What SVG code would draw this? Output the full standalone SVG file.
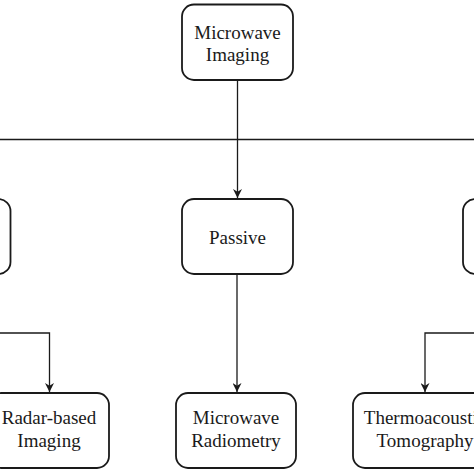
<svg xmlns="http://www.w3.org/2000/svg" width="474" height="474" viewBox="0 0 474 474">
<style>
.box{fill:#fff;stroke:#1a1a1a;stroke-width:1.8}
.t{font-family:"Liberation Serif","Times New Roman",serif;font-size:19px;fill:#1a1a1a;text-anchor:middle}
.c{fill:none;stroke:#1a1a1a;stroke-width:1.3}
</style>
<defs>
<marker id="ah" viewBox="0 0 10 10" refX="10" refY="5" markerWidth="9" markerHeight="9" markerUnits="userSpaceOnUse" orient="auto">
<path d="M0,0 L10,5 L0,10 L3,5 z" fill="#1a1a1a"/>
</marker>
</defs>
<rect width="474" height="474" fill="#fff"/>
<g id="connectors">
<path class="c" d="M237.5,80 V198" marker-end="url(#ah)"/>
<path class="c" d="M0,139.5 H474"/>
<path class="c" d="M237,274 V392" marker-end="url(#ah)"/>
<path class="c" d="M0,333 H49.5 V392" marker-end="url(#ah)"/>
<path class="c" d="M474,333 H425 V392" marker-end="url(#ah)"/>
</g>
<g id="microwave-imaging">
<rect class="box" x="182" y="4.5" width="111" height="75.5" rx="12"/>
<text class="t" x="237.5" y="38.5">Microwave</text>
<text class="t" x="237.5" y="60.5">Imaging</text>
</g>
<g id="active">
<rect class="box" x="-101" y="199" width="111.5" height="75" rx="12"/>
</g>
<g id="passive">
<rect class="box" x="182" y="199" width="111" height="75" rx="12"/>
<text class="t" x="237.5" y="244">Passive</text>
</g>
<g id="hybrid">
<rect class="box" x="463" y="199" width="111" height="75" rx="12"/>
</g>
<g id="radar-based-imaging">
<rect class="box" x="-11" y="393" width="120" height="75" rx="12"/>
<text class="t" x="49" y="424">Radar-based</text>
<text class="t" x="49" y="446.5">Imaging</text>
</g>
<g id="microwave-radiometry">
<rect class="box" x="176" y="393" width="120" height="75" rx="12"/>
<text class="t" x="236" y="424">Microwave</text>
<text class="t" x="236" y="446.5">Radiometry</text>
</g>
<g id="thermoacoustic-tomography">
<rect class="box" x="353" y="393" width="140" height="75" rx="12"/>
<text class="t" x="425" y="424">Thermoacoustic</text>
<text class="t" x="425" y="446.5">Tomography</text>
</g>
</svg>
